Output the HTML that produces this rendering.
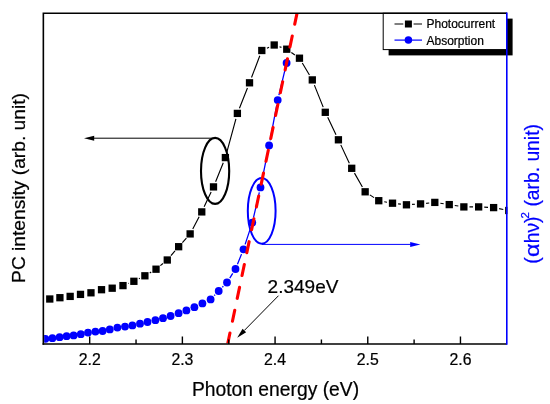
<!DOCTYPE html>
<html><head><meta charset="utf-8"><title>Photocurrent and absorption spectra</title>
<style>
html,body{margin:0;padding:0;background:#fff}
body{width:550px;height:404px;overflow:hidden}
svg{display:block}
text{font-family:"Liberation Sans",Arial,Helvetica,sans-serif;stroke:#000;stroke-width:0.22px}
text.b{stroke:#0000ff}
</style></head><body>
<svg width="550" height="404" viewBox="0 0 550 404">
<rect width="550" height="404" fill="#fff"/>
<defs><clipPath id="plot"><rect x="44.15" y="13.20" width="463.25" height="330.00"/></clipPath></defs>

<rect x="388.6" y="18.6" width="124" height="36.8" fill="#000"/>
<rect x="383.2" y="13.2" width="123.4" height="36.4" fill="#fff" stroke="#000" stroke-width="1"/>
<g clip-path="url(#plot)">
<path d="M214.21 295.66L215.09 294.74M222.33 287.28L223.37 286.22M229.77 278.10L232.73 273.40M237.46 264.18L241.54 254.12M245.13 244.36L250.67 227.64M253.48 217.63L259.32 192.47M261.54 182.31L268.06 150.49M270.07 140.29L276.73 105.21M278.91 95.04L285.39 68.06" stroke="#0000ff" stroke-width="1.3" fill="none"/>
<circle cx="45.40" cy="338.80" r="3.9" fill="#0000ff"/>
<circle cx="52.40" cy="338.20" r="3.9" fill="#0000ff"/>
<circle cx="59.60" cy="337.20" r="3.9" fill="#0000ff"/>
<circle cx="66.60" cy="336.20" r="3.9" fill="#0000ff"/>
<circle cx="73.60" cy="335.40" r="3.9" fill="#0000ff"/>
<circle cx="80.80" cy="334.20" r="3.9" fill="#0000ff"/>
<circle cx="88.00" cy="332.60" r="3.9" fill="#0000ff"/>
<circle cx="95.40" cy="331.60" r="3.9" fill="#0000ff"/>
<circle cx="102.60" cy="331.00" r="3.9" fill="#0000ff"/>
<circle cx="109.80" cy="329.40" r="3.9" fill="#0000ff"/>
<circle cx="117.40" cy="327.60" r="3.9" fill="#0000ff"/>
<circle cx="125.00" cy="326.60" r="3.9" fill="#0000ff"/>
<circle cx="132.40" cy="325.40" r="3.9" fill="#0000ff"/>
<circle cx="140.00" cy="323.70" r="3.9" fill="#0000ff"/>
<circle cx="147.50" cy="322.00" r="3.9" fill="#0000ff"/>
<circle cx="155.40" cy="320.20" r="3.9" fill="#0000ff"/>
<circle cx="163.00" cy="318.20" r="3.9" fill="#0000ff"/>
<circle cx="170.60" cy="316.00" r="3.9" fill="#0000ff"/>
<circle cx="178.60" cy="313.20" r="3.9" fill="#0000ff"/>
<circle cx="186.40" cy="310.40" r="3.9" fill="#0000ff"/>
<circle cx="194.40" cy="307.20" r="3.9" fill="#0000ff"/>
<circle cx="202.40" cy="303.40" r="3.9" fill="#0000ff"/>
<circle cx="210.60" cy="299.40" r="3.9" fill="#0000ff"/>
<circle cx="218.70" cy="291.00" r="3.9" fill="#0000ff"/>
<circle cx="227.00" cy="282.50" r="3.9" fill="#0000ff"/>
<circle cx="235.50" cy="269.00" r="3.9" fill="#0000ff"/>
<circle cx="243.50" cy="249.30" r="3.9" fill="#0000ff"/>
<circle cx="252.30" cy="222.70" r="3.9" fill="#0000ff"/>
<circle cx="260.50" cy="187.40" r="3.9" fill="#0000ff"/>
<circle cx="269.10" cy="145.40" r="3.9" fill="#0000ff"/>
<circle cx="277.70" cy="100.10" r="3.9" fill="#0000ff"/>
<circle cx="286.60" cy="63.00" r="3.9" fill="#0000ff"/>
<path d="M128.19 283.54L128.67 283.36M138.89 278.80L139.88 278.30M149.71 272.94L151.21 272.06M160.36 265.65L162.94 263.55M170.91 255.74L175.01 250.96M182.39 242.53L186.40 238.07M192.76 228.95L199.14 216.85M204.14 206.83L211.12 191.97M215.61 181.71L223.28 162.79M226.85 152.20L235.92 118.80M239.45 108.19L247.46 88.01M251.51 77.57L259.81 55.73M266.92 48.23L269.09 47.27M279.52 46.78L281.45 47.42M291.33 52.44L294.89 54.96M302.31 63.02L309.45 75.08M314.38 85.10L323.20 107.10M327.70 117.35L336.01 134.75M340.79 144.88L349.35 163.22M354.49 173.16L362.38 186.94M369.84 194.87L374.07 197.63M384.27 201.70L387.01 202.20M398.09 203.84L400.89 204.16M412.04 204.44L414.96 204.26M426.12 203.31L429.24 202.99M440.35 203.24L443.71 203.76M454.78 205.47L458.33 206.03M469.46 206.90L473.05 206.90M484.24 207.16L488.03 207.34M499.12 208.65L503.28 209.45" stroke="#000" stroke-width="1.15" fill="none"/>
<rect x="46.12" y="295.35" width="7.3" height="7.3" fill="#000"/>
<rect x="56.26" y="294.05" width="7.3" height="7.3" fill="#000"/>
<rect x="66.50" y="292.75" width="7.3" height="7.3" fill="#000"/>
<rect x="76.85" y="290.75" width="7.3" height="7.3" fill="#000"/>
<rect x="87.31" y="289.15" width="7.3" height="7.3" fill="#000"/>
<rect x="97.87" y="286.05" width="7.3" height="7.3" fill="#000"/>
<rect x="108.54" y="284.55" width="7.3" height="7.3" fill="#000"/>
<rect x="119.33" y="281.95" width="7.3" height="7.3" fill="#000"/>
<rect x="130.23" y="277.65" width="7.3" height="7.3" fill="#000"/>
<rect x="141.24" y="272.15" width="7.3" height="7.3" fill="#000"/>
<rect x="152.37" y="265.55" width="7.3" height="7.3" fill="#000"/>
<rect x="163.62" y="256.35" width="7.3" height="7.3" fill="#000"/>
<rect x="175.00" y="243.05" width="7.3" height="7.3" fill="#000"/>
<rect x="186.49" y="230.25" width="7.3" height="7.3" fill="#000"/>
<rect x="198.11" y="208.25" width="7.3" height="7.3" fill="#000"/>
<rect x="209.85" y="183.25" width="7.3" height="7.3" fill="#000"/>
<rect x="221.73" y="153.95" width="7.3" height="7.3" fill="#000"/>
<rect x="233.73" y="109.75" width="7.3" height="7.3" fill="#000"/>
<rect x="245.87" y="79.15" width="7.3" height="7.3" fill="#000"/>
<rect x="258.15" y="46.85" width="7.3" height="7.3" fill="#000"/>
<rect x="270.56" y="41.35" width="7.3" height="7.3" fill="#000"/>
<rect x="283.11" y="45.55" width="7.3" height="7.3" fill="#000"/>
<rect x="295.81" y="54.55" width="7.3" height="7.3" fill="#000"/>
<rect x="308.65" y="76.25" width="7.3" height="7.3" fill="#000"/>
<rect x="321.63" y="108.65" width="7.3" height="7.3" fill="#000"/>
<rect x="334.77" y="136.15" width="7.3" height="7.3" fill="#000"/>
<rect x="348.06" y="164.65" width="7.3" height="7.3" fill="#000"/>
<rect x="361.51" y="188.15" width="7.3" height="7.3" fill="#000"/>
<rect x="375.11" y="197.05" width="7.3" height="7.3" fill="#000"/>
<rect x="388.87" y="199.55" width="7.3" height="7.3" fill="#000"/>
<rect x="402.80" y="201.15" width="7.3" height="7.3" fill="#000"/>
<rect x="416.90" y="200.25" width="7.3" height="7.3" fill="#000"/>
<rect x="431.16" y="198.75" width="7.3" height="7.3" fill="#000"/>
<rect x="445.60" y="200.95" width="7.3" height="7.3" fill="#000"/>
<rect x="460.21" y="203.25" width="7.3" height="7.3" fill="#000"/>
<rect x="475.00" y="203.25" width="7.3" height="7.3" fill="#000"/>
<rect x="489.97" y="203.95" width="7.3" height="7.3" fill="#000"/>
<rect x="505.13" y="206.85" width="7.3" height="7.3" fill="#000"/>
</g>
<ellipse cx="215.1" cy="170.9" rx="14.1" ry="33" fill="none" stroke="#000" stroke-width="2.1"/>
<ellipse cx="261.7" cy="210.8" rx="13.9" ry="32.9" fill="none" stroke="#0000ff" stroke-width="2"/>
<path d="M215 138.2H93" stroke="#000" stroke-width="1" fill="none"/>
<path d="M84 138.2L94.2 135.7V140.7Z" fill="#000"/>
<path d="M262 244.4H411" stroke="#0000ff" stroke-width="1" fill="none"/>
<path d="M420.4 244.4L410.2 241.9V246.9Z" fill="#0000ff"/>
<path d="M297.04 13.15L294.73 24.15M292.25 36.00L289.94 47.00M287.45 58.85L285.15 69.85M282.66 81.70L280.36 92.70M277.87 104.55L275.56 115.55M273.08 127.40L270.77 138.40M268.29 150.25L265.98 161.25M263.50 173.10L261.19 184.10M258.70 195.95L256.40 206.95M253.91 218.80L251.61 229.80M249.12 241.65L246.81 252.65M244.33 264.50L242.02 275.50M239.54 287.35L237.23 298.35M234.75 310.20L232.44 321.20M229.95 333.05L227.65 344.05" stroke="#ff0000" stroke-width="3.1" stroke-linecap="round" fill="none" clip-path="url(#plot)"/>
<path d="M278.5 295.7L244.35 330.43" stroke="#000" stroke-width="1" fill="none"/>
<path d="M237.2 337.7L242.57 328.67L246.13 332.18Z" fill="#000"/>
<text x="267.6" y="292.6" font-size="19">2.349eV</text>
<path d="M43.35 344.8V13.2H506.8" stroke="#000" stroke-width="1.6" fill="none"/>
<path d="M42.550000000000004 344.0H506.8" stroke="#000" stroke-width="1.6" fill="none"/>
<path d="M89.69 344.0v-7.5M136.04 344.0v-4.5M182.38 344.0v-7.5M228.73 344.0v-4.5M275.07 344.0v-7.5M321.42 344.0v-4.5M367.77 344.0v-7.5M414.11 344.0v-4.5M460.46 344.0v-7.5" stroke="#000" stroke-width="1.4" fill="none"/>
<text x="89.70" y="364.5" font-size="15.8" text-anchor="middle">2.2</text>
<text x="182.38" y="364.5" font-size="15.8" text-anchor="middle">2.3</text>
<text x="275.07" y="364.5" font-size="15.8" text-anchor="middle">2.4</text>
<text x="367.77" y="364.5" font-size="15.8" text-anchor="middle">2.5</text>
<text x="460.46" y="364.5" font-size="15.8" text-anchor="middle">2.6</text>
<path d="M506.8 12.399999999999999V344.8" stroke="#0000ff" stroke-width="1.6" fill="none"/>
<path d="M394.5 24H403.3M413.6 24H422" stroke="#000" stroke-width="1"/>
<rect x="404.9" y="20.5" width="7" height="7" fill="#000"/>
<path d="M394.5 40.1H422" stroke="#0000ff" stroke-width="1.2"/>
<circle cx="408.4" cy="40.1" r="3.75" fill="#0000ff"/>
<text x="426.5" y="28.4" font-size="12">Photocurrent</text>
<text x="426.5" y="44.5" font-size="12">Absorption</text>
<text x="275.5" y="396.1" font-size="19.3" text-anchor="middle">Photon energy (eV)</text>
<text transform="translate(24.7 188.0) rotate(-90)" font-size="19.2" text-anchor="middle">PC intensity (arb. unit)</text>
<g transform="translate(538.9 263.65) rotate(-90)" fill="#0000ff" font-size="19.3"><text class="b" x="0" y="0">(</text><text class="b" transform="translate(6.7 0) scale(1.22 1)">α</text><text class="b" x="20.4" y="0">hν)</text><text class="b" x="45.1" y="-10" font-size="11.5">2</text><text class="b" x="57.05" y="0">(arb. unit)</text></g>
</svg></body></html>
